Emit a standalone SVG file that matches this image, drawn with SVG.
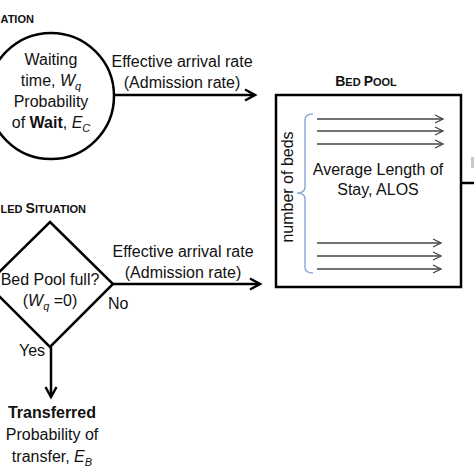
<svg xmlns="http://www.w3.org/2000/svg" width="474" height="474" viewBox="0 0 474 474">
<style>
text{font-family:"Liberation Sans",Arial,sans-serif;fill:#111}
.t{font-size:16px}
.mid{text-anchor:middle}
.i{font-style:italic}
.sub{font-style:italic;font-size:11px}
.b{font-weight:bold}
.cap{font-weight:bold;font-size:14px}
.sc{font-weight:bold;font-size:11px}
.shape{fill:#fff;stroke:#000;stroke-width:2.5}
.conn{stroke:#000;stroke-width:2.5;fill:none}
.bed{stroke:#444;stroke-width:1.3;fill:none}
</style>
<defs>
<marker id="ah" markerUnits="userSpaceOnUse" markerWidth="16" markerHeight="16" refX="0" refY="0" viewBox="-13 -8 16 16" orient="auto">
<path d="M-10,-5.5 L0,0 L-10,5.5" fill="none" stroke="#000" stroke-width="2.5" stroke-linejoin="miter"/>
</marker>
<marker id="ahs" markerUnits="userSpaceOnUse" markerWidth="12" markerHeight="12" refX="0" refY="0" viewBox="-10 -6 12 12" orient="auto">
<path d="M-8,-4 L0,0 L-8,4" fill="none" stroke="#444" stroke-width="1.3"/>
</marker>
</defs>
<rect width="474" height="474" fill="#fff"/>

<g id="title-wait">
<text x="0.5" y="23" class="sc">ATION</text>
</g>
<g id="title-full">
<text x="0.5" y="213"><tspan class="sc">LED </tspan><tspan class="cap">S</tspan><tspan class="sc">ITUATION</tspan></text>
</g>

<g id="waiting">
<circle cx="51" cy="96" r="63" class="shape"/>
<text x="51" y="65" class="t mid">Waiting</text>
<text x="51" y="86" class="t mid">time, <tspan class="i">W</tspan><tspan class="sub" dy="4">q</tspan></text>
<text x="51" y="107" class="t mid">Probability</text>
<text x="51" y="128" class="t mid">of <tspan class="b">Wait</tspan>, <tspan class="i">E</tspan><tspan class="sub" dy="4">C</tspan></text>
</g>

<g id="decision">
<polygon points="50,222 113,284 50,347 -13,284" class="shape"/>
<text x="50" y="285" class="t mid">Bed Pool full?</text>
<text x="50" y="306" class="t mid">(<tspan class="i">W</tspan><tspan class="sub" dy="4">q</tspan><tspan dy="-4"> =0)</tspan></text>
</g>

<g id="bedpool">
<text x="366" y="86" class="mid"><tspan class="cap">B</tspan><tspan class="sc">ED </tspan><tspan class="cap">P</tspan><tspan class="sc">OOL</tspan></text>
<rect x="276" y="95" width="185" height="192" class="shape" stroke-width="2.2"/>
<path d="M313,114 Q305,114 305,120 L305,187 Q305,193 297,193 Q305,193 305,199 L305,267 Q305,273 313,273" fill="none" stroke="#8eaadb" stroke-width="1.5"/>
<text transform="translate(293,187) rotate(-90)" class="t mid">number of beds</text>
<line x1="317" y1="119" x2="443" y2="119" class="bed" marker-end="url(#ahs)"/>
<line x1="317" y1="131" x2="443" y2="131" class="bed" marker-end="url(#ahs)"/>
<line x1="317" y1="144" x2="443" y2="144" class="bed" marker-end="url(#ahs)"/>
<text x="378" y="175" class="t mid">Average Length of</text>
<text x="378" y="195" class="t mid">Stay, ALOS</text>
<line x1="317" y1="243" x2="441" y2="243" class="bed" marker-end="url(#ahs)"/>
<line x1="317" y1="256" x2="441" y2="256" class="bed" marker-end="url(#ahs)"/>
<line x1="317" y1="269" x2="441" y2="269" class="bed" marker-end="url(#ahs)"/>
<rect x="471" y="157" width="3" height="11" fill="#c8c8c8"/>
</g>

<g id="transferred">
<text x="52" y="418" class="t mid b">Transferred</text>
<text x="52" y="440" class="t mid">Probability of</text>
<text x="52" y="462" class="t mid">transfer, <tspan class="i">E</tspan><tspan class="sub" dy="4">B</tspan></text>
</g>

<g id="connectors">
<line x1="115" y1="95" x2="255" y2="95" class="conn" marker-end="url(#ah)"/>
<text x="182" y="67" class="t mid">Effective arrival rate</text>
<text x="182" y="88" class="t mid">(Admission rate)</text>
<line x1="113" y1="284" x2="260" y2="284" class="conn" marker-end="url(#ah)"/>
<text x="183" y="257" class="t mid">Effective arrival rate</text>
<text x="183" y="278" class="t mid">(Admission rate)</text>
<text x="108" y="309" class="t">No</text>
<line x1="51" y1="347" x2="51" y2="397" class="conn" marker-end="url(#ah)"/>
<text x="19" y="356" class="t">Yes</text>
<line x1="461" y1="183" x2="474" y2="183" class="conn"/>
</g>
</svg>
